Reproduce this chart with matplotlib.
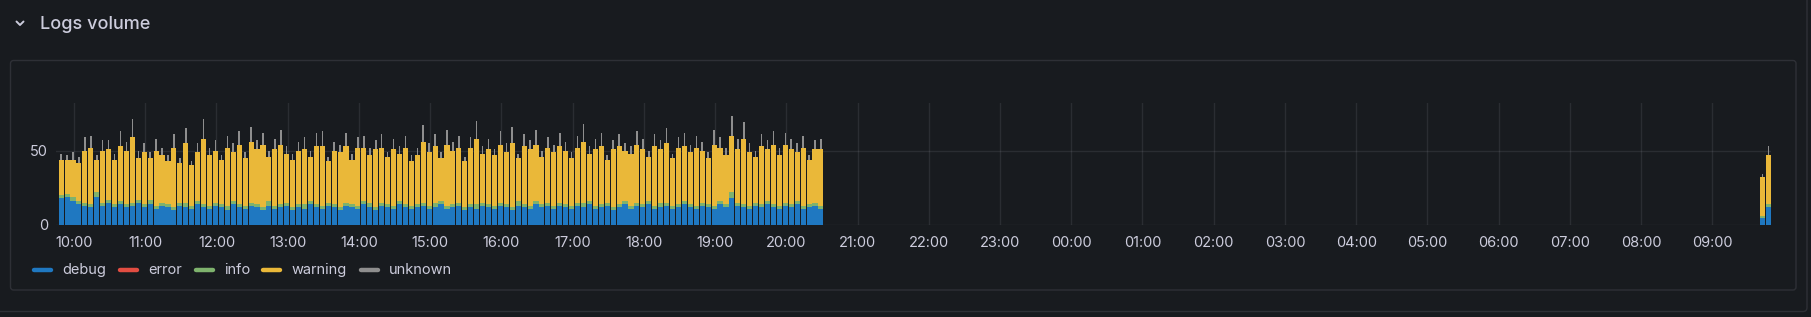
#--------------------------------------------------------
# plot.py
# Purpose: Logs volume panel (stacked bars per log level)
#--------------------------------------------------------

import datetime
import matplotlib
matplotlib.use('Agg')
import matplotlib.pyplot as plt
import matplotlib.dates as mdates
from matplotlib.patches import FancyBboxPatch

#-----------------------------------------
#--- Data (counts per 5 min bucket)
#-----------------------------------------
levels = ['debug', 'error', 'info', 'warning', 'unknown']
colors = ['#1F78C1', '#E24D42', '#7EB26D', '#EAB839', '#8E8E8E']

start_first = '09:47'   # first bucket of the first block (day 1)
start_second = '09:40'  # first bucket of the second block (day 2)

debug = [18, 19, 16, 14, 13, 12, 19, 13, 15, 12, 14, 12,
         13, 15, 12, 14, 11, 13, 12, 10, 13, 12, 11, 14,
         12, 11, 13, 12, 10, 14, 12, 11, 13, 12, 10, 13,
         11, 12, 13, 10, 12, 11, 14, 12, 11, 13, 12, 10,
         13, 12, 11, 14, 12, 10, 13, 12, 11, 14, 12, 11,
         12, 13, 11, 12, 14, 11, 12, 13, 10, 12, 11, 13,
         12, 11, 13, 12, 10, 13, 12, 11, 14, 12, 13, 11,
         13, 12, 11, 13, 12, 14, 11, 12, 13, 10, 12, 14,
         11, 13, 12, 14, 11, 12, 13, 11, 12, 14, 12, 11,
         13, 12, 11, 14, 12, 18, 13, 12, 11, 13, 12, 14,
         12, 11, 13, 12, 14, 11, 12, 13, 11]
error = [0] * 129
info = [2, 2, 3, 2, 2, 2, 3, 2, 2, 2, 2, 2,
        2, 2, 2, 3, 2, 2, 2, 2, 2, 3, 2, 2,
        2, 2, 2, 2, 3, 2, 2, 2, 2, 2, 2, 3,
        2, 2, 2, 2, 2, 3, 2, 2, 2, 2, 2, 2,
        2, 2, 2, 2, 3, 2, 2, 2, 2, 2, 2, 2,
        2, 2, 2, 3, 2, 2, 2, 2, 2, 2, 3, 2,
        2, 2, 2, 2, 2, 3, 2, 2, 2, 2, 2, 2,
        2, 2, 2, 2, 3, 2, 2, 2, 2, 2, 2, 2,
        2, 2, 2, 2, 2, 3, 2, 2, 2, 2, 2, 2,
        2, 2, 2, 2, 2, 4, 2, 2, 2, 2, 2, 2,
        2, 2, 2, 2, 2, 2, 2, 2, 2]
warning = [24, 23, 25, 26, 35, 38, 22, 35, 34, 30, 37, 36,
           44, 28, 35, 28, 37, 32, 29, 40, 27, 40, 27, 33,
           44, 34, 35, 30, 39, 33, 40, 32, 41, 37, 42, 30,
           38, 40, 33, 32, 36, 37, 30, 39, 40, 28, 36, 37,
           38, 30, 39, 36, 32, 39, 37, 32, 38, 32, 38, 30,
           33, 41, 36, 38, 29, 41, 36, 37, 31, 38, 44, 33,
           37, 34, 39, 35, 43, 29, 39, 38, 38, 32, 37, 36,
           38, 36, 32, 37, 41, 32, 38, 39, 29, 39, 39, 34,
           35, 39, 37, 30, 40, 36, 40, 32, 38, 37, 35, 39,
           35, 31, 41, 36, 33, 38, 36, 44, 36, 31, 39, 35,
           40, 34, 39, 37, 33, 39, 30, 36, 38]
unknown = [4, 3, 5, 4, 9, 8, 3, 7, 6, 4, 10, 6,
           12, 5, 6, 4, 8, 5, 4, 9, 3, 10, 3, 6,
           13, 5, 7, 3, 8, 6, 9, 4, 10, 6, 8, 4,
           7, 10, 5, 4, 6, 8, 4, 9, 10, 3, 6, 5,
           9, 4, 7, 8, 5, 6, 9, 3, 7, 5, 8, 4,
           5, 11, 6, 8, 4, 10, 6, 8, 3, 7, 12, 5,
           7, 4, 9, 6, 11, 3, 8, 6, 10, 4, 7, 5,
           9, 6, 4, 8, 12, 5, 7, 9, 3, 6, 8, 5,
           5, 9, 7, 4, 8, 6, 10, 3, 7, 9, 5, 8,
           6, 4, 10, 7, 5, 13, 7, 11, 6, 4, 8, 6,
           9, 5, 8, 7, 6, 8, 3, 6, 7]

debug2 = [5, 12]
error2 = [0, 0]
info2 = [1, 2]
warning2 = [26, 33]
unknown2 = [2, 6]

yticks = [0, 50]

#-----------------------------------------
#--- Figure / pixel helpers
#-----------------------------------------
W, H = 1811, 317
bg = '#181B1F'
txt = '#CCCCDC'
edge = '#2E3036'

fig = plt.figure(figsize=(W / 100, H / 100), dpi=100, facecolor=bg)

# background axes in pixel coords (y down)
bax = fig.add_axes([0, 0, 1, 1])
bax.set_xlim(0, W)
bax.set_ylim(H, 0)
bax.axis('off')
bax.set_facecolor(bg)

bax.add_patch(FancyBboxPatch((-6, -20), 1813, 331.5, boxstyle='round,pad=0,rounding_size=4',
                             fc='none', ec=edge, lw=1))
bax.add_patch(FancyBboxPatch((10.5, 60.5), 1785.5, 229.5, boxstyle='round,pad=0,rounding_size=3',
                             fc='none', ec=edge, lw=1))

# chevron + title
bax.plot([16.5, 20, 23.5], [21.5, 25, 21.5], color=txt, lw=1.4, solid_capstyle='round')
bax.text(40, 24.5, 'Logs volume', color=txt, fontsize=13, family=['Inter', 'DejaVu Sans'],
         fontweight='medium', va='center', ha='left')

# legend
leg_x = [34, 120, 196, 263, 361]
for lx, name, c in zip(leg_x, levels, colors):
    bax.plot([lx, lx + 17], [270, 270], color=c, lw=3.2, solid_capstyle='round')
    bax.text(lx + 28, 270, name, color=txt, fontsize=10.5, family=['Inter', 'DejaVu Sans'],
             va='center', ha='left')

#-----------------------------------------
#--- Main plot
#-----------------------------------------
day1 = datetime.datetime(2024, 5, 14)
day2 = day1 + datetime.timedelta(days=1)

def times(day, hhmm, n):
    h, m = [int(v) for v in hhmm.split(':')]
    t0 = day + datetime.timedelta(hours=h, minutes=m)
    return [t0 + datetime.timedelta(minutes=5 * i) for i in range(n)]

t1 = mdates.date2num(times(day1, start_first, len(debug)))
t2 = mdates.date2num(times(day2, start_second, len(debug2)))

xmin = mdates.date2num(day1 + datetime.timedelta(hours=9, minutes=45))
xmax = mdates.date2num(day2 + datetime.timedelta(hours=9, minutes=49))

x0, x1 = 56.2, 1770.5
y0, y1 = 103, 225
ax = fig.add_axes([x0 / W, 1 - y1 / H, (x1 - x0) / W, (y1 - y0) / H])
ax.set_facecolor('none')

bw = 4.3 / 1440.0
uw = 1.3 / 1440.0
for tt, series in [(t1, [debug, error, info, warning, unknown]),
                   (t2, [debug2, error2, info2, warning2, unknown2])]:
    bottom = [0] * len(tt)
    for k, (vals, c) in enumerate(zip(series, colors)):
        if k == 4:
            # unknown appears as thin spikes on top
            ax.bar(tt + bw / 2 - uw / 2, vals, width=uw, bottom=bottom, color=c,
                   align='edge', linewidth=0, zorder=3)
        else:
            ax.bar(tt, vals, width=bw, bottom=bottom, color=c, align='edge',
                   linewidth=0, zorder=3)
        bottom = [b + v for b, v in zip(bottom, vals)]

ax.set_xlim(xmin, xmax)
ax.set_ylim(0, 82)
ax.set_yticks(yticks)
ax.xaxis.set_major_locator(mdates.HourLocator())
ax.xaxis.set_major_formatter(mdates.DateFormatter('%H:%M'))

ax.grid(True, color='#CCCCDC', alpha=0.1, lw=1, zorder=0)
for s in ax.spines.values():
    s.set_visible(False)
ax.tick_params(length=0, colors=txt, labelsize=10.5)
ax.tick_params(axis='x', pad=8)
ax.tick_params(axis='y', pad=6)
for lab in ax.get_xticklabels() + ax.get_yticklabels():
    lab.set_family(['Inter', 'DejaVu Sans'])

savefig_name = 'out.png'
fig.savefig(savefig_name, dpi=100, facecolor=bg)
